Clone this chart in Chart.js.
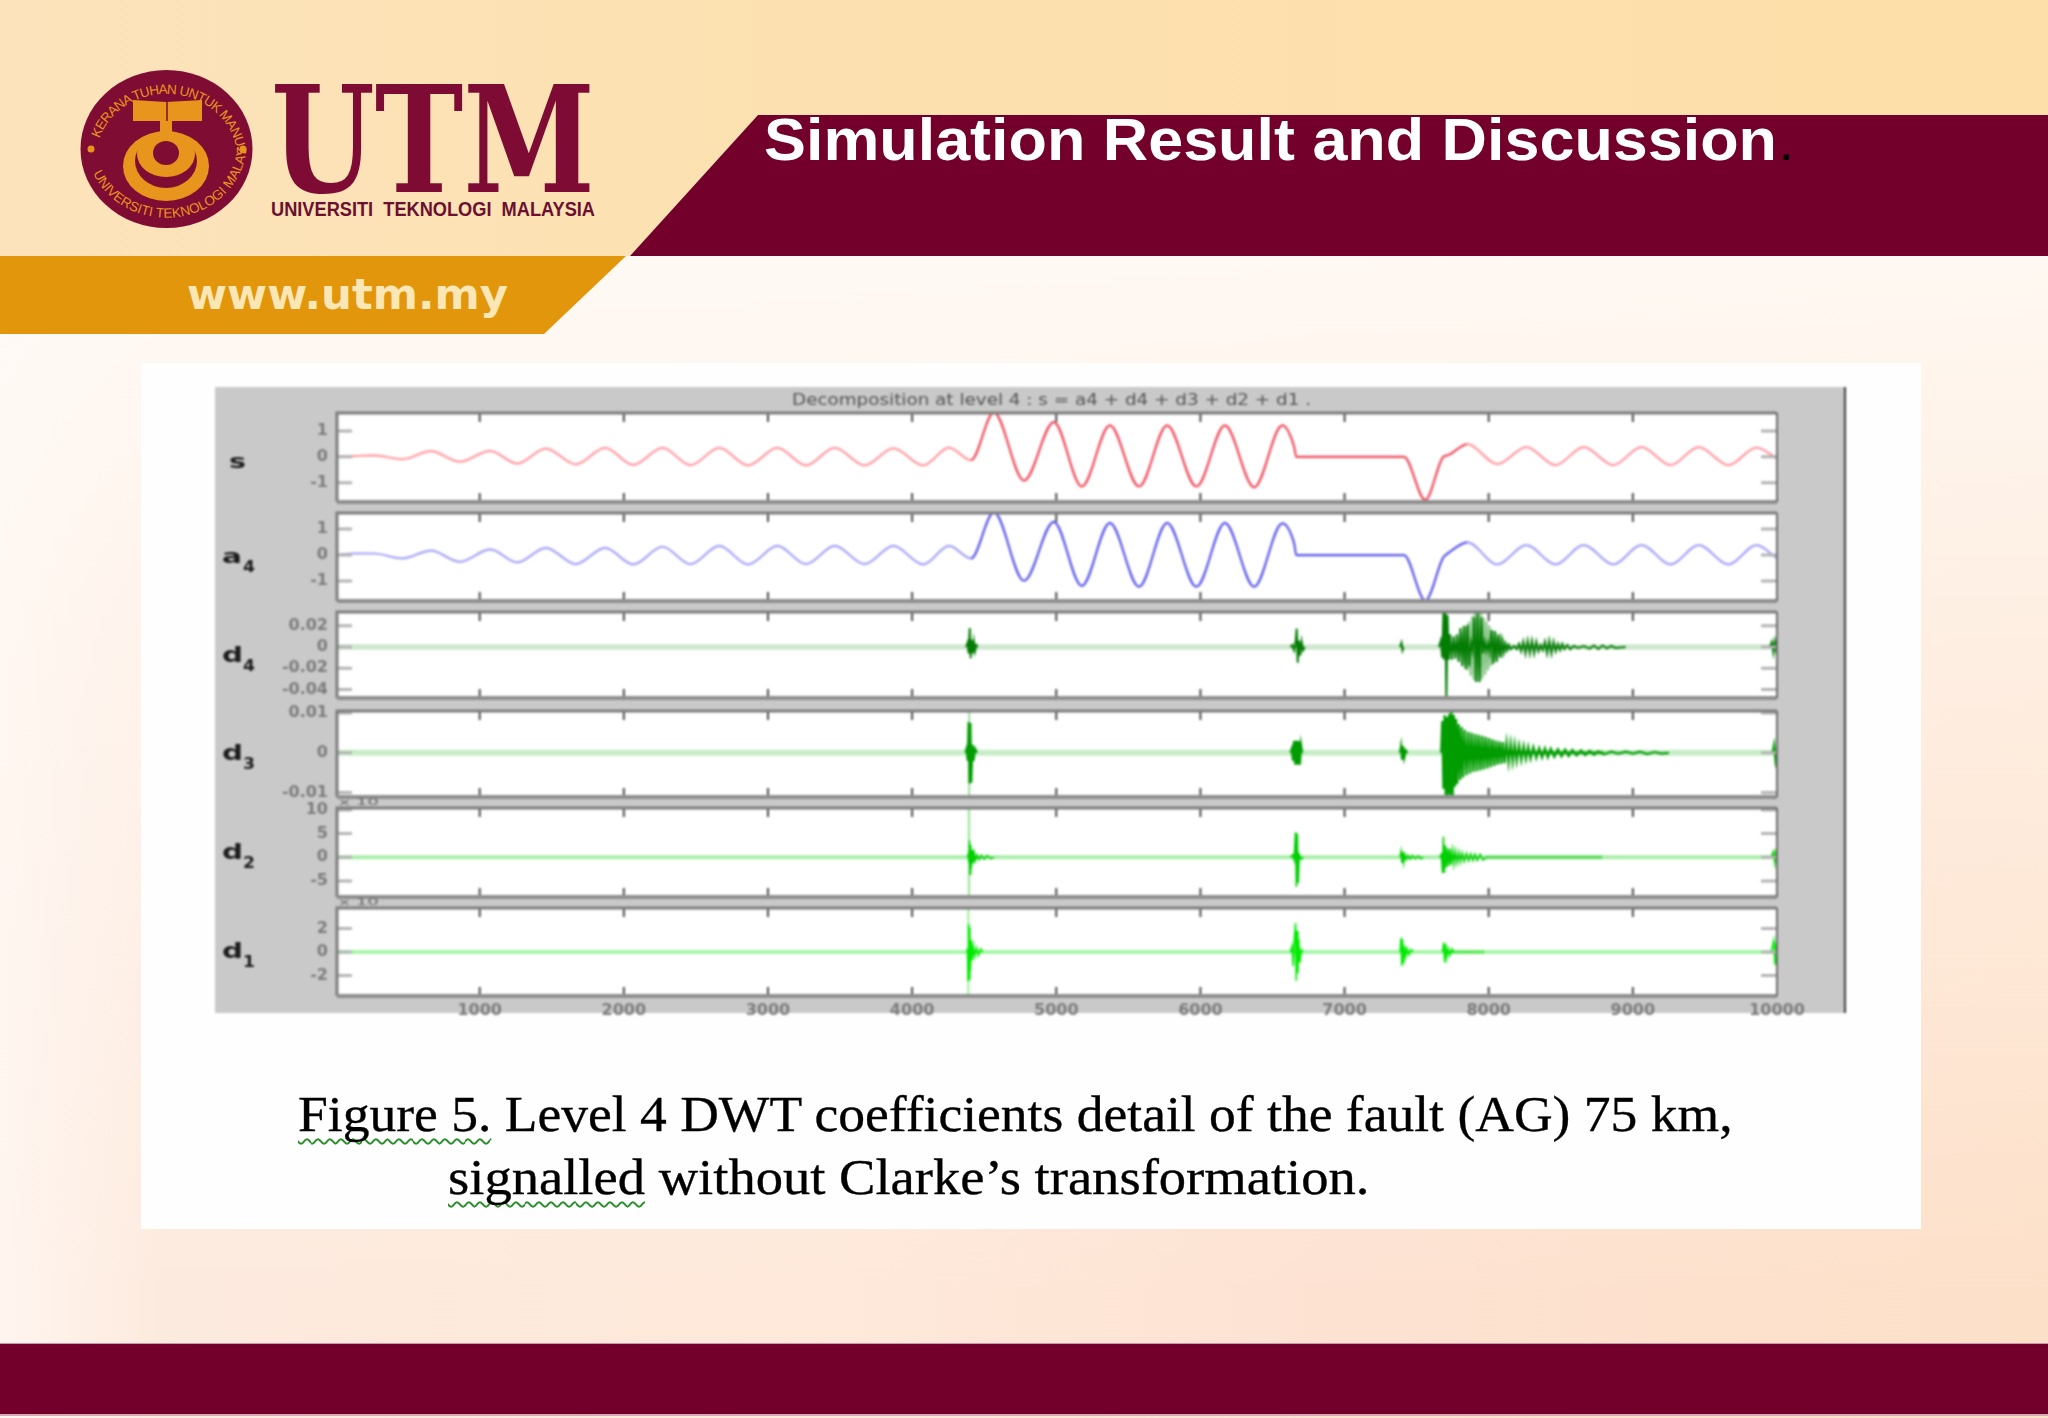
<!DOCTYPE html>
<html>
<head>
<meta charset="utf-8">
<title>Simulation Result and Discussion</title>
<script src="https://cdn.jsdelivr.net/npm/chart.js@4/dist/chart.umd.min.js"></script>
<style>
  html, body { margin: 0; padding: 0; }
  body {
    width: 2048px; height: 1418px; overflow: hidden; position: relative;
    background:
      linear-gradient(180deg, rgba(255,251,247,.9) 17%, rgba(255,248,243,.6) 45%, rgba(255,250,245,0) 92%),
      linear-gradient(90deg, #fff5ef 0%, #fdeade 8%, #fee9da 40%, #fde2d2 65%, #fde0c8 100%);
  }
  #slide { position: absolute; left: 0; top: 0; }
  #whiteBox { position: absolute; left: 141px; top: 363px; width: 1780px; height: 866px; background: #fefefe; }
  #figure { position: absolute; left: 0; top: 0; width: 2048px; height: 1418px; filter: blur(.85px); }
  #panel { position: absolute; left: 215px; top: 387px; width: 1629px; height: 626px; background: #c9c9c9; border-right: 2px solid #3c3c3c; }
  #figure canvas { position: absolute; }
  #figure svg { position: absolute; left: 0; top: 0; }
  #footer { position: absolute; left: 0; top: 1343px; width: 2048px; height: 73px; background: #72002a; border-top: 1px solid #c79aa8; border-bottom: 2px solid #d8a8b4; box-sizing: border-box; }
  .caption {
    position: absolute; font-family: "Liberation Serif", serif; font-size: 51px; color: #000; white-space: pre; line-height: 1;
    transform-origin: left top; -webkit-text-stroke: .35px #000; filter: blur(.4px);
  }
  .squiggle { text-decoration: underline wavy #2a8f2a 2px; text-underline-offset: 7px; text-decoration-skip-ink: none; -webkit-text-stroke: .35px #000; }
</style>
</head>
<body>
<div id="whiteBox"></div>
<svg id="slide" width="2048" height="1418" xmlns="http://www.w3.org/2000/svg">
  <defs>
    <linearGradient id="cream" x1="0" x2="1" y1="0" y2="0">
      <stop offset="0" stop-color="#fce3bb"/>
      <stop offset="0.45" stop-color="#fce0ae"/>
      <stop offset="1" stop-color="#fddfa9"/>
    </linearGradient>
    <path id="logoTop" d="M 96 152 A 71 66 0 0 1 237 152"/>
    <path id="logoBottom" d="M 87 152 A 80 74 0 0 0 246 152"/>
  </defs>
  <!-- bandeau -->
  <polygon points="0,0 2048,0 2048,115 758,115 630,256 0,256" fill="url(#cream)"/>
  <polygon points="758,115 2048,115 2048,256 630,256" fill="#72002a"/>
  <polygon points="0,256 626,256 544,334 0,334" fill="#e2960c"/>
  <text x="187" y="309" font-family="DejaVu Sans" font-weight="bold" font-size="42" fill="#fbe6b6" textLength="321" lengthAdjust="spacingAndGlyphs">www.utm.my</text>

  <!-- logo -->
  <ellipse cx="166.5" cy="149" rx="86" ry="79" fill="#7f0c33"/>
  <text font-family="Liberation Sans" font-size="13.5" fill="#e8951e" textLength="200"><textPath href="#logoTop" startOffset="14">KERANA TUHAN UNTUK MANUSIA</textPath></text>
  <text font-family="Liberation Sans" font-size="13.5" fill="#e8951e"><textPath href="#logoBottom" startOffset="22">UNIVERSITI TEKNOLOGI MALAYSIA</textPath></text>
  <circle cx="91" cy="149" r="3.5" fill="#e8951e"/>
  <circle cx="243" cy="149" r="3.5" fill="#e8951e"/>
  <ellipse cx="166" cy="166" rx="43" ry="35" fill="#e8951e"/>
  <ellipse cx="166" cy="161" rx="31" ry="27" fill="#7f0c33"/>
  <ellipse cx="166" cy="154" rx="29" ry="23" fill="#e8951e"/>
  <polygon points="133,100 166,102 202,100 202,121 172,121 172,136 160,136 160,121 133,121" fill="#e8951e"/>
  <line x1="167" y1="101" x2="167" y2="121" stroke="#7f0c33" stroke-width="1.5"/>
  <ellipse cx="166" cy="153" rx="13" ry="12" fill="#7f0c33"/>
  <text x="271" y="192" font-family="DejaVu Serif" font-weight="bold" font-size="147" fill="#7e0b33" textLength="324" lengthAdjust="spacingAndGlyphs">UTM</text>
  <text x="271" y="216" font-family="Liberation Sans" font-weight="bold" font-size="20" fill="#6b1030" textLength="324" lengthAdjust="spacingAndGlyphs" xml:space="preserve" style="white-space:pre">UNIVERSITI  TEKNOLOGI  MALAYSIA</text>

  <text x="764" y="160" font-family="Liberation Sans" font-weight="bold" font-size="60" fill="#ffffff" textLength="1013" lengthAdjust="spacingAndGlyphs">Simulation Result and Discussion</text>
  <text x="1781" y="160" font-family="Liberation Sans" font-weight="bold" font-size="36" fill="#000000">.</text>
</svg>

<div id="figure">
  <div id="panel"></div>
  <svg width="2048" height="1418" xmlns="http://www.w3.org/2000/svg">
    <text x="792" y="405" font-family="DejaVu Sans" font-size="15" fill="#555" textLength="519" lengthAdjust="spacingAndGlyphs">Decomposition at level 4 : s = a4 + d4 + d3 + d2 + d1 .</text>
    <g font-family="DejaVu Sans" font-weight="bold" fill="#1c1c1c">
      <text x="229" y="468" font-size="19" textLength="17" lengthAdjust="spacingAndGlyphs">s</text>
      <text x="222" y="563" font-size="19" textLength="20" lengthAdjust="spacingAndGlyphs">a</text>
      <text x="243" y="572" font-size="15" textLength="12" lengthAdjust="spacingAndGlyphs">4</text>
      <text x="222" y="662" font-size="21" textLength="21" lengthAdjust="spacingAndGlyphs">d</text>
      <text x="243" y="671" font-size="15" textLength="12" lengthAdjust="spacingAndGlyphs">4</text>
      <text x="222" y="760" font-size="21" textLength="21" lengthAdjust="spacingAndGlyphs">d</text>
      <text x="243" y="769" font-size="15" textLength="12" lengthAdjust="spacingAndGlyphs">3</text>
      <text x="222" y="859" font-size="21" textLength="21" lengthAdjust="spacingAndGlyphs">d</text>
      <text x="243" y="868" font-size="15" textLength="12" lengthAdjust="spacingAndGlyphs">2</text>
      <text x="222" y="958" font-size="21" textLength="21" lengthAdjust="spacingAndGlyphs">d</text>
      <text x="243" y="967" font-size="15" textLength="12" lengthAdjust="spacingAndGlyphs">1</text>
    </g>
    <g font-family="DejaVu Sans" font-size="9" fill="#666">
      <text x="339" y="805" textLength="40" lengthAdjust="spacingAndGlyphs">x 10</text>
      <text x="339" y="905" textLength="40" lengthAdjust="spacingAndGlyphs">x 10</text>
    </g>
  </svg>
</div>

<div class="caption" style="left:298px;top:1089px;transform:scaleX(1.05)"><span class="squiggle">Figure 5.</span> Level 4 DWT coefficients detail of the fault (AG) 75 km,</div>
<div class="caption" style="left:448px;top:1152px;transform:scaleX(1.07)"><span class="squiggle">signalled</span> without Clarke’s transformation.</div>
<div id="footer"></div>

<script>
// ─── Datos ─────────────────────────────────────────────────────
const xTicks = [1000, 2000, 3000, 4000, 5000, 6000, 7000, 8000, 9000, 10000];
const xRange = [10, 10000];

const sTicks  = [-1, 0, 1];
const a4Ticks = [-1, 0, 1];
const d4Ticks = [-0.04, -0.02, 0, 0.02];
const d3Ticks = [-0.01, 0, 0.01];
const d2Ticks = [-5, 0, 5, 10];
const d1Ticks = [-2, 0, 2];

const waveSamples = [
  0, 130, 264, 463, 662, 862, 1073, 1260, 1459, 1666, 1870, 2065, 2268, 2463, 2662, 2862, 3065, 3264, 3463, 3670,
  3870, 4077, 4256, 4408, 4567, 4776, 4983, 5177, 5372, 5574, 5769, 5972, 6170, 6373, 6568, 6650, 6665, 7412, 7560,
  7685, 7716, 7853, 8059, 8261, 8464, 8659, 8865, 9060, 9262, 9457, 9663, 9858, 10000
];
const sValues = [
  0, 0.03, 0.06, -0.09, 0.22, -0.19, 0.23, -0.26, 0.32, -0.29, 0.35, -0.31, 0.35, -0.32, 0.35, -0.33, 0.35, -0.33, 0.35, -0.33,
  0.33, -0.33, 0.36, -0.13, 1.72, -0.92, 1.35, -1.15, 1.22, -1.15, 1.22, -1.15, 1.22, -1.18, 1.22, 0.4, 0, 0, -1.67,
  0, 0.06, 0.49, -0.28, 0.38, -0.32, 0.38, -0.32, 0.38, -0.32, 0.38, -0.32, 0.36, -0.06
];
const a4Values = [
  0, 0.06, 0.06, -0.13, 0.17, -0.26, 0.22, -0.28, 0.28, -0.35, 0.28, -0.36, 0.32, -0.35, 0.35, -0.36, 0.35, -0.35, 0.35, -0.35,
  0.35, -0.36, 0.35, -0.13, 1.65, -0.99, 1.28, -1.19, 1.24, -1.22, 1.24, -1.22, 1.24, -1.22, 1.22, 0.45, 0, 0, -1.75,
  -0.09, 0.06, 0.49, -0.36, 0.38, -0.36, 0.38, -0.36, 0.38, -0.36, 0.38, -0.36, 0.38, -0.13
];

// Los null separan cada ráfaga; entre ráfagas sólo queda la banda clara del cero
const d4Samples = [
  4375, 4385, 4392, 4400, 4406, 4412, 4420, 4428, 4436, 4445, 4455, 4456,
  6625, 6638, 6650, 6660, 6668, 6675, 6684, 6692, 6702, 6712, 6724, 6725,
  7385, 7395, 7402, 7410, 7411,
  7655, 7668, 7678, 7686, 7692, 7700, 7706, 7714, 7722, 7732, 7744, 7756, 7768, 7780, 7792, 7804, 7816, 7828, 7840, 7852,
  7864, 7876, 7888, 7900, 7912, 7924, 7936, 7948, 7960, 7972, 7984, 7996, 8008, 8020, 8032, 8044, 8056, 8068, 8080, 8092,
  8104, 8116, 8128, 8140, 8152, 8175, 8195, 8210, 8225, 8240, 8255, 8270, 8285, 8300, 8315, 8330, 8345, 8360, 8375, 8390,
  8405, 8420, 8435, 8450, 8465, 8480, 8495, 8510, 8525, 8545, 8565, 8590, 8620, 8660, 8700, 8730, 8760, 8790, 8820, 8850,
  8880, 8950, 8951, 9950, 9965, 9975, 9985, 9995, 10000
];
const d4Values = [
  0, 0.004, -0.006, 0.018, -0.0105, 0.007, -0.006, 0.005, -0.004, 0.002, 0, null,
  0, 0.002, -0.003, 0.004, 0.0175, -0.0147, 0.006, -0.008, 0.005, -0.003, 0, null,
  0, 0.004, -0.003, 0, null,
  0, 0.006, -0.01, 0.032, -0.012, 0.032, -0.05, 0.03, -0.012, 0.012, -0.012, 0.01, -0.011, 0.012, -0.014, 0.018, -0.018, 0.02, -0.021, 0.021,
  -0.018, 0.004, -0.004, 0.028, -0.033, 0.033, -0.033, 0.028, -0.006, 0.005, -0.004, 0.004, -0.005, 0.016, -0.016, 0.015, -0.014, 0.012, -0.01, 0.006,
  -0.005, 0.003, -0.003, 0.002, -0.002, 0.001, -0.002, 0.003, -0.004, 0.005, -0.006, 0.006, -0.006, 0.006, -0.006, 0.005, -0.004, 0.002, -0.003, 0.005,
  -0.006, 0.006, -0.006, 0.005, -0.004, 0.003, -0.003, 0.003, -0.002, 0.002, -0.002, 0.001, -0.0008, 0.001, -0.0015, 0.0015, -0.0018, 0.0015, -0.0012, 0.001,
  -0.0008, 0, null, 0, 0.005, -0.005, 0.005, -0.004, 0
];
// rombo claro alrededor de 8000
const d4PaleSamples = [
  7775, 7785, 7795, 7805, 7815, 7825, 7835, 7845, 7855, 7865, 7875, 7885, 7895, 7905, 7915, 7925, 7935, 7945, 7955,
  7965, 7975, 7985, 7995, 8005, 8015, 8025, 8035, 8045, 8055, 8065, 8075, 8085, 8095, 8105, 8115, 8125, 8135, 8145
];
const d4PaleValues = [
  0, 0.004, -0.006, 0.009, -0.012, 0.014, -0.017, 0.019, -0.022, 0.024, -0.027, 0.029, -0.031, 0.033, -0.033, 0.033, -0.033, 0.032, -0.03,
  0.028, -0.026, 0.024, -0.022, 0.02, -0.018, 0.016, -0.014, 0.012, -0.011, 0.009, -0.008, 0.006, -0.005, 0.004, -0.003, 0.002, -0.001, 0
];

const d3Samples = [
  4370, 4378, 4386, 4392, 4398, 4404, 4410, 4418, 4426, 4436, 4450, 4451,
  6625, 6634, 6642, 6650, 6658, 6666, 6674, 6682, 6690, 6698, 6706, 6707,
  7385, 7392, 7399, 7406, 7414, 7424, 7436, 7437,
  7670, 7678, 7686, 7694, 7702, 7710, 7718, 7726, 7734, 7742, 7750, 7758, 7766, 7774, 7782, 7792, 7802, 7812, 7822, 7834,
  7846, 7858, 7870, 7882, 7894, 7906, 7918, 7930, 7942, 7954, 7966, 7978, 7990, 8002, 8014, 8026, 8038, 8050, 8062, 8074,
  8086, 8098, 8110, 8124, 8138, 8152, 8166, 8180, 8194, 8210, 8226, 8242, 8258, 8274, 8290, 8310, 8330, 8350, 8370, 8390,
  8410, 8430, 8455, 8480, 8505, 8530, 8555, 8580, 8610, 8640, 8670, 8700, 8730, 8760, 8800, 8850, 8900, 8950, 9000, 9050,
  9100, 9150, 9200, 9250, 9251, 9970, 9980, 9990, 10000
];
const d3Values = [
  0, 0.001, -0.002, 0.0077, -0.0077, 0.0075, -0.0075, 0.002, -0.002, 0.001, 0, null,
  0, 0.001, -0.002, 0.003, -0.003, 0.003, -0.003, 0.003, -0.003, 0.002, 0, null,
  0, 0.0017, -0.0017, 0.0017, -0.0012, 0.0006, 0, null,
  0, 0.008, -0.009, 0.0095, -0.0114, 0.009, -0.0105, 0.0098, -0.0105, 0.0112, -0.0114, 0.0095, -0.0085, 0.0085, -0.0078, 0.0072, -0.0068, 0.0065, -0.0062, 0.0058,
  -0.0056, 0.0053, -0.0052, 0.005, -0.0048, 0.0047, -0.0046, 0.0045, -0.0044, 0.0043, -0.0042, 0.004, -0.0039, 0.0037, -0.0036, 0.0034, -0.0033, 0.0031, -0.003, 0.0029,
  -0.0028, 0.0027, -0.0026, 0.0025, -0.0024, 0.0023, -0.0022, 0.0021, -0.002, 0.0019, -0.0018, 0.0017, -0.0016, 0.0015, -0.0015, 0.0014, -0.0013, 0.0012, -0.0012, 0.0011,
  -0.0011, 0.001, -0.001, 0.0009, -0.0009, 0.0008, -0.0008, 0.0007, -0.0007, 0.0006, -0.0006, 0.0005, -0.0005, 0.0004, -0.0004, 0.0003, -0.0002, 0.0003, -0.0002, 0.0003,
  -0.0003, 0.0002, -0.0002, 0, null, 0, 0.002, -0.002, 0
];
const d3SpikeSamples = [4396, 4396];
const d3SpikeValues  = [0.012, -0.012];
const d3TailSamples  = [8150, 8800];
const d3TailValues   = [0, 0];

const d2Samples = [
  4385, 4390, 4394, 4398, 4402, 4406, 4410, 4416, 4422, 4430, 4438, 4450, 4465, 4480, 4500, 4520, 4545, 4567, 4568,
  6625, 6640, 6650, 6660, 6666, 6672, 6678, 6686, 6700, 6715, 6716,
  7385, 7392, 7398, 7404, 7410, 7418, 7428, 7440, 7455, 7470, 7490, 7510, 7530, 7545, 7546,
  7660, 7672, 7680, 7686, 7692, 7698, 7706, 7714, 7722, 7730, 7738, 7748, 7758, 7768, 7780, 7792, 7804, 7816, 7830, 7845,
  7860, 7875, 7890, 7905, 7920, 7940, 7960, 7985, 7986,
  9960, 9975, 9985, 9992, 10000
];
const d2Values = [
  0, 0.6, -1.2, 3.6, -3.6, 2.6, -2.4, 1.5, -1.3, 0.9, -0.8, 0.5, -0.5, 0.4, -0.4, 0.35, -0.3, 0, null,
  0, 0.5, -0.6, 5.3, -6.3, 5, -5.5, 0.5, -0.4, 0, null,
  0, 1.2, -1.2, 1.1, -1.1, 0.6, -0.5, 0.4, -0.4, 0.4, -0.35, 0.3, -0.3, 0, null,
  0, 0.6, -3.3, 4.4, -3.3, 2.5, -2.2, 2, -1.9, 1.8, -1.6, 1.5, -1.4, 1.3, -1.2, 1.1, -1, 0.9, -0.9, 0.8,
  -0.75, 0.7, -0.7, 0.65, -0.65, 0.6, -0.6, 0, null,
  0, 1.2, -1.2, 1, 0
];
const d2SpikeSamples = [4394, 4394];
const d2SpikeValues  = [10.5, -8.5];
const d2TailSamples  = [7985, 8787];
const d2TailValues   = [0, 0];

const d1Samples = [
  4380, 4384, 4388, 4392, 4396, 4400, 4404, 4410, 4416, 4424, 4434, 4446, 4460, 4475, 4490, 4491,
  6625, 6636, 6644, 6652, 6660, 6665, 6670, 6676, 6682, 6690, 6700, 6712, 6713,
  7385, 7392, 7397, 7403, 7409, 7416, 7424, 7434, 7446, 7460, 7478, 7479,
  7680, 7688, 7694, 7700, 7708, 7718, 7730, 7745, 7760, 7761,
  9960, 9978, 9986, 9994, 10000
];
const d1Values = [
  0, 0.3, -2.4, 2.4, -2.3, 2.1, -1.6, 1, -0.7, 0.5, -0.4, 0.35, -0.3, 0.25, 0, null,
  0, 0.5, -1.2, 1.2, 2.47, -2.44, 1.8, -1.8, 1.1, -0.9, 0.2, 0, null,
  0, 1.2, -1.2, 1, -1, 0.5, -0.4, 0.3, -0.25, 0.2, 0, null,
  0, 0.8, -0.9, 0.7, -0.5, 0.3, -0.3, 0.25, 0, null,
  0, 1, -1.1, 0.9, 0
];
const d1SpikeSamples = [4390, 4390];
const d1SpikeValues  = [3.8, -3.8];
const d1TailSamples  = [7700, 7970];
const d1TailValues   = [0, 0];

const zeroSamples = [0, 10000];
const zeroValues  = [0, 0];

// ─── Helpers ──────────────────────────────────────────────────
function toPoints(xs, ys) {
  return xs.map((x, i) => ({ x, y: ys[i] }));
}

function detailLine(xs, ys, color, width) {
  return { data: toPoints(xs, ys), borderColor: color, borderWidth: width, pointRadius: 0, tension: 0, borderJoinStyle: 'miter' };
}

function waveLine(ys, pale, strong) {
  return {
    data: toPoints(waveSamples, ys),
    borderColor: pale,
    borderWidth: 2.2,
    pointRadius: 0,
    cubicInterpolationMode: 'monotone',
    segment: { borderColor: ctx => (ctx.p0.parsed.x >= 4400 && ctx.p0.parsed.x < 7850 ? strong : pale) },
  };
}

// Marco tipo MATLAB: fondo blanco, borde gris y marcas hacia adentro
const matlabFrame = {
  id: 'matlabFrame',
  beforeDatasetsDraw(chart) {
    const { ctx, chartArea: a } = chart;
    ctx.save();
    ctx.fillStyle = '#ffffff';
    ctx.fillRect(a.left, a.top, a.width, a.height);
    ctx.restore();
  },
  afterDatasetsDraw(chart) {
    const { ctx, chartArea: a, scales } = chart;
    ctx.save();
    ctx.strokeStyle = '#b4b4b4';
    ctx.lineWidth = 3;
    scales.y.ticks.forEach(t => {
      const py = scales.y.getPixelForValue(t.value);
      ctx.beginPath();
      ctx.moveTo(a.left, py); ctx.lineTo(a.left + 15, py);
      ctx.moveTo(a.right, py); ctx.lineTo(a.right - 16, py);
      ctx.stroke();
    });
    ctx.strokeStyle = '#4a4a4a';
    ctx.lineWidth = 2;
    scales.x.ticks.forEach(t => {
      const px = scales.x.getPixelForValue(t.value);
      ctx.beginPath();
      ctx.moveTo(px, a.top); ctx.lineTo(px, a.top + 9);
      ctx.moveTo(px, a.bottom); ctx.lineTo(px, a.bottom - 9);
      ctx.stroke();
    });
    ctx.strokeStyle = '#7c7c7c';
    ctx.lineWidth = 3;
    ctx.beginPath();
    ctx.moveTo(a.left, a.bottom); ctx.lineTo(a.left, a.top); ctx.lineTo(a.right, a.top);
    ctx.stroke();
    ctx.strokeStyle = '#8e8e8e';
    ctx.lineWidth = 4;
    ctx.beginPath();
    ctx.moveTo(a.left, a.bottom); ctx.lineTo(a.right, a.bottom);
    ctx.stroke();
    ctx.strokeStyle = '#6c6c6c';
    ctx.lineWidth = 2;
    ctx.beginPath();
    ctx.moveTo(a.right, a.top); ctx.lineTo(a.right, a.bottom);
    ctx.stroke();
    ctx.restore();
  }
};

const PANEL_LEFT = 215, PANEL_RIGHT = 1844, PLOT_LEFT = 337, PLOT_RIGHT = 1777, EDGE = 12;
const TICK_FONT = { family: "'DejaVu Sans'", size: 16, weight: 'bold' };

function makePanel(top, bottom, yMin, yMax, yTicks, layers, showX) {
  const extra = showX ? 28 : 0;
  const el = document.createElement('canvas');
  el.width = PANEL_RIGHT - PANEL_LEFT;
  el.height = bottom - top + EDGE * 2 + extra;
  el.style.left = PANEL_LEFT + 'px';
  el.style.top = (top - EDGE) + 'px';
  el.style.width = el.width + 'px';
  el.style.height = el.height + 'px';
  document.getElementById('figure').insertBefore(el, document.querySelector('#figure svg'));

  new Chart(el, {
    type: 'line',
    // Chart.js pinta primero el último dataset: se invierte para que el fondo quede abajo
    data: { datasets: layers.slice().reverse() },
    plugins: [matlabFrame],
    options: {
      responsive: false,
      animation: false,
      devicePixelRatio: 1,
      layout: { padding: { top: EDGE, bottom: showX ? 0 : EDGE, left: 0, right: PANEL_RIGHT - PLOT_RIGHT } },
      plugins: { legend: { display: false }, tooltip: { enabled: false }, title: { display: false } },
      scales: {
        x: {
          type: 'linear',
          min: xRange[0],
          max: xRange[1],
          afterBuildTicks: s => { s.ticks = xTicks.map(value => ({ value })); },
          afterFit: s => { s.height = showX ? EDGE + extra : 0; s.paddingLeft = 0; s.paddingRight = 0; },
          grid: { display: false, drawTicks: false },
          border: { display: false },
          ticks: { display: !!showX, autoSkip: false, maxRotation: 0, padding: 5, color: '#7c7c7c', font: TICK_FONT, callback: v => String(v) },
        },
        y: {
          min: yMin,
          max: yMax,
          afterBuildTicks: s => { s.ticks = yTicks.map(value => ({ value })); },
          afterFit: s => { s.width = PLOT_LEFT - PANEL_LEFT; s.paddingTop = 0; s.paddingBottom = 0; },
          grid: { display: false, drawTicks: false },
          border: { display: false },
          ticks: { autoSkip: false, padding: 9, color: '#7c7c7c', font: TICK_FONT, callback: v => String(v) },
        },
      },
    },
  });
}

// ─── Los seis paneles ─────────────────────────────────────────
makePanel(413, 502, -1.75, 1.7, sTicks, [waveLine(sValues, '#ff9aa2', '#f04a5a')]);
makePanel(513, 601, -1.77, 1.62, a4Ticks, [waveLine(a4Values, '#a4a3f8', '#5a58ea')]);
makePanel(612, 698, -0.048, 0.033, d4Ticks, [
  detailLine(zeroSamples, zeroValues, '#cfe7cf', 5.5),
  detailLine(d4PaleSamples, d4PaleValues, '#8cc78c', 2.2),
  detailLine(d4Samples, d4Values, '#047d04', 2),
]);
makePanel(711, 797, -0.0111, 0.0105, d3Ticks, [
  detailLine(zeroSamples, zeroValues, '#c8eec8', 6),
  detailLine(d3SpikeSamples, d3SpikeValues, '#7fd07f', 1.5),
  detailLine(d3TailSamples, d3TailValues, '#39b539', 3),
  detailLine(d3Samples, d3Values, '#009c00', 2.2),
]);
makePanel(808, 897, -8.4, 10.4, d2Ticks, [
  detailLine(zeroSamples, zeroValues, '#a8eea8', 4),
  detailLine(d2SpikeSamples, d2SpikeValues, '#8fe68f', 2),
  detailLine(d2TailSamples, d2TailValues, '#5fdc5f', 3.5),
  detailLine(d2Samples, d2Values, '#00cf00', 1.6),
]);
makePanel(908, 996, -3.75, 3.75, d1Ticks, [
  detailLine(zeroSamples, zeroValues, '#a8f6a8', 4),
  detailLine(d1SpikeSamples, d1SpikeValues, '#98f098', 2),
  detailLine(d1TailSamples, d1TailValues, '#5fe85f', 3.5),
  detailLine(d1Samples, d1Values, '#00ea00', 1.6),
], true);
</script>
</body>
</html>
